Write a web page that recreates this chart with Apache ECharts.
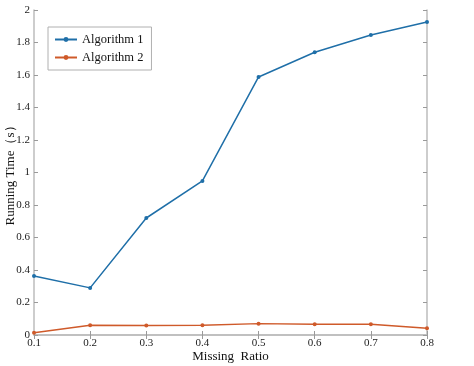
<!DOCTYPE html>
<html>
<head>
<meta charset="utf-8">
<script src="https://cdn.jsdelivr.net/npm/echarts@6/dist/echarts.min.js"></script>
<style>
  html, body { margin: 0; padding: 0; background: #fff; }
  #chart { width: 474px; height: 366px; }
</style>
</head>
<body>
<div id="chart"></div>
<script>
const ratios = ["0.1", "0.2", "0.3", "0.4", "0.5", "0.6", "0.7", "0.8"];
const algo1 = [0.363, 0.29, 0.72, 0.948, 1.588, 1.74, 1.846, 1.926];
const algo2 = [0.014, 0.06, 0.058, 0.06, 0.07, 0.066, 0.066, 0.041];

const font = "Liberation Serif";
const frame = { lineStyle: { color: "#bdbdbd", width: 1.5 } };
const tickIn = { inside: true, length: 4, lineStyle: { color: "#9a9a9a" } };

const chart = echarts.init(document.getElementById("chart"));
chart.setOption({
  animation: false,
  textStyle: { fontFamily: font },
  grid: { left: 34, right: 47, top: 10, bottom: 31, outerBoundsMode: "none", containLabel: false },
  legend: {
    left: 48, top: 27,
    orient: "vertical",
    itemGap: 5,
    itemWidth: 22,
    itemHeight: 6,
    padding: [6, 8, 6, 6],
    borderColor: "#b0b0b0",
    borderWidth: 1,
    textStyle: { fontFamily: font, fontSize: 12.5, color: "#111" },
    data: ["Algorithm 1", "Algorithm 2"]
  },
  xAxis: [
    {
      type: "category", data: ratios, boundaryGap: false,
      name: "Missing  Ratio", nameLocation: "middle", nameGap: 15, nameMoveOverlap: false,
      nameTextStyle: { fontFamily: font, fontSize: 13, color: "#111" },
      axisLine: frame, axisTick: tickIn,
      axisLabel: { fontFamily: font, fontSize: 11, color: "#222", margin: 3 },
      splitLine: { show: false }
    },
    {
      type: "category", data: ratios, boundaryGap: false, position: "top",
      axisLine: frame, axisTick: tickIn, axisLabel: { show: false },
      splitLine: { show: false }
    }
  ],
  yAxis: [
    {
      type: "value", min: 0, max: 2, interval: 0.2,
      name: "Running Time（s）", nameLocation: "middle", nameGap: 17, nameMoveOverlap: false,
      nameTextStyle: { fontFamily: font, fontSize: 13, color: "#111" },
      axisLine: { show: true, ...frame }, axisTick: { show: true, ...tickIn },
      axisLabel: { fontFamily: font, fontSize: 11, color: "#222", margin: 4 },
      splitLine: { show: false }
    },
    {
      type: "value", min: 0, max: 2, interval: 0.2, position: "right",
      axisLine: { show: true, ...frame }, axisTick: { show: true, ...tickIn },
      axisLabel: { show: false }, splitLine: { show: false }
    }
  ],
  series: [
    {
      name: "Algorithm 1", type: "line", data: algo1,
      symbol: "circle", symbolSize: 4,
      itemStyle: { color: "#1f6fa8" },
      lineStyle: { color: "#1f6fa8", width: 1.5 }
    },
    {
      name: "Algorithm 2", type: "line", data: algo2,
      symbol: "circle", symbolSize: 4,
      itemStyle: { color: "#cf5a2a" },
      lineStyle: { color: "#cf5a2a", width: 1.5 }
    }
  ]
});
</script>
</body>
</html>
